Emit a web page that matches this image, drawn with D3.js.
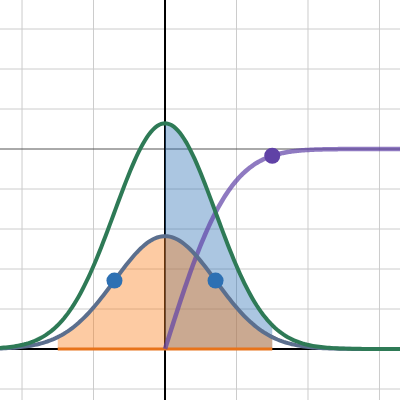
<!DOCTYPE html><html><head><script src="https://cdn.jsdelivr.net/npm/d3@7"></script>
<style>body{margin:0}svg{display:block}</style></head><body><svg width="400" height="400"></svg><script>
const sigma = Math.SQRT1_2;
const xTicks = [-2,-1,0,1,2,3];
const yTicks = [-0.2,0.2,0.4,0.6,0.8,1,1.2,1.4,1.6];
const pointsGray = [-0.707, 0.707];
const pointPurple = [1.5];
const fillRange = [-1.5, 1.5];
const blueRange = [0, 1.5];
const x = d3.scaleLinear().domain([-2.308,3.287]).range([0,400]);
const y = d3.scaleLinear().domain([-0.255,1.745]).range([400,0]);
const svg = d3.select("svg");
svg.append("rect").attr("width",400).attr("height",400).attr("fill","#fff");
const pdf = t => Math.exp(-t*t/(2*sigma*sigma))/(sigma*Math.sqrt(2*Math.PI));
const gray = pdf, green = t => 2*pdf(t);
function erf(z){const s=Math.sign(z);z=Math.abs(z);const t=1/(1+0.3275911*z);
 const yv=1-(((((1.061405429*t-1.453152027)*t)+1.421413741)*t-0.284496736)*t+0.254829592)*t*Math.exp(-z*z);return s*yv;}
svg.selectAll(".gx").data(xTicks.filter(d=>d!==0)).enter().append("line").attr("x1",d=>x(d)).attr("x2",d=>x(d)).attr("y1",0).attr("y2",400).attr("stroke","#ccc").attr("stroke-width",1);
svg.selectAll(".gy").data(yTicks).enter().append("line").attr("y1",d=>y(d)).attr("y2",d=>y(d)).attr("x1",0).attr("x2",400).attr("stroke",d=>d===1?"#555":"#ccc").attr("stroke-width",1);
const rng=(a,b,n=200)=>d3.range(n+1).map(i=>a+(b-a)*i/n);
const area=f=>d3.area().x(d=>x(d)).y0(y(0)).y1(d=>y(f(d)));
const line=f=>d3.line().x(d=>x(d)).y(d=>y(f(d)));
svg.append("line").attr("x1",0).attr("x2",400).attr("y1",y(0)).attr("y2",y(0)).attr("stroke","#000").attr("stroke-width",2);
svg.append("line").attr("x1",x(0)).attr("x2",x(0)).attr("y1",0).attr("y2",400).attr("stroke","#000").attr("stroke-width",2);
svg.append("path").attr("d",area(green)(rng(...blueRange))).attr("fill","#2d70b3").attr("fill-opacity",0.4);
svg.append("path").attr("d",area(gray)(rng(...fillRange))).attr("fill","#fa7e19").attr("fill-opacity",0.4);
svg.append("line").attr("x1",x(fillRange[0])).attr("x2",x(fillRange[1])).attr("y1",y(0)).attr("y2",y(0)).attr("stroke","#e8731a").attr("stroke-width",3);
svg.append("path").attr("d",line(t=>erf(t))(rng(0,3.3))).attr("fill","none").attr("stroke","#6042a6").attr("stroke-opacity",0.7).attr("stroke-width",4.5);
svg.append("path").attr("d",line(gray)(rng(-2.4,3.4))).attr("fill","none").attr("stroke","#5b6f8e").attr("stroke-width",4);
svg.append("path").attr("d",line(green)(rng(-2.4,3.4))).attr("fill","none").attr("stroke","#2e7a56").attr("stroke-width",4);
svg.selectAll(".pg").data(pointsGray).enter().append("circle").attr("cx",d=>x(d)).attr("cy",d=>y(gray(d))).attr("r",8).attr("fill","#2d70b3");
svg.selectAll(".pp").data(pointPurple).enter().append("circle").attr("cx",d=>x(d)).attr("cy",d=>y(erf(d))).attr("r",8).attr("fill","#6042a6");
</script></body></html>
